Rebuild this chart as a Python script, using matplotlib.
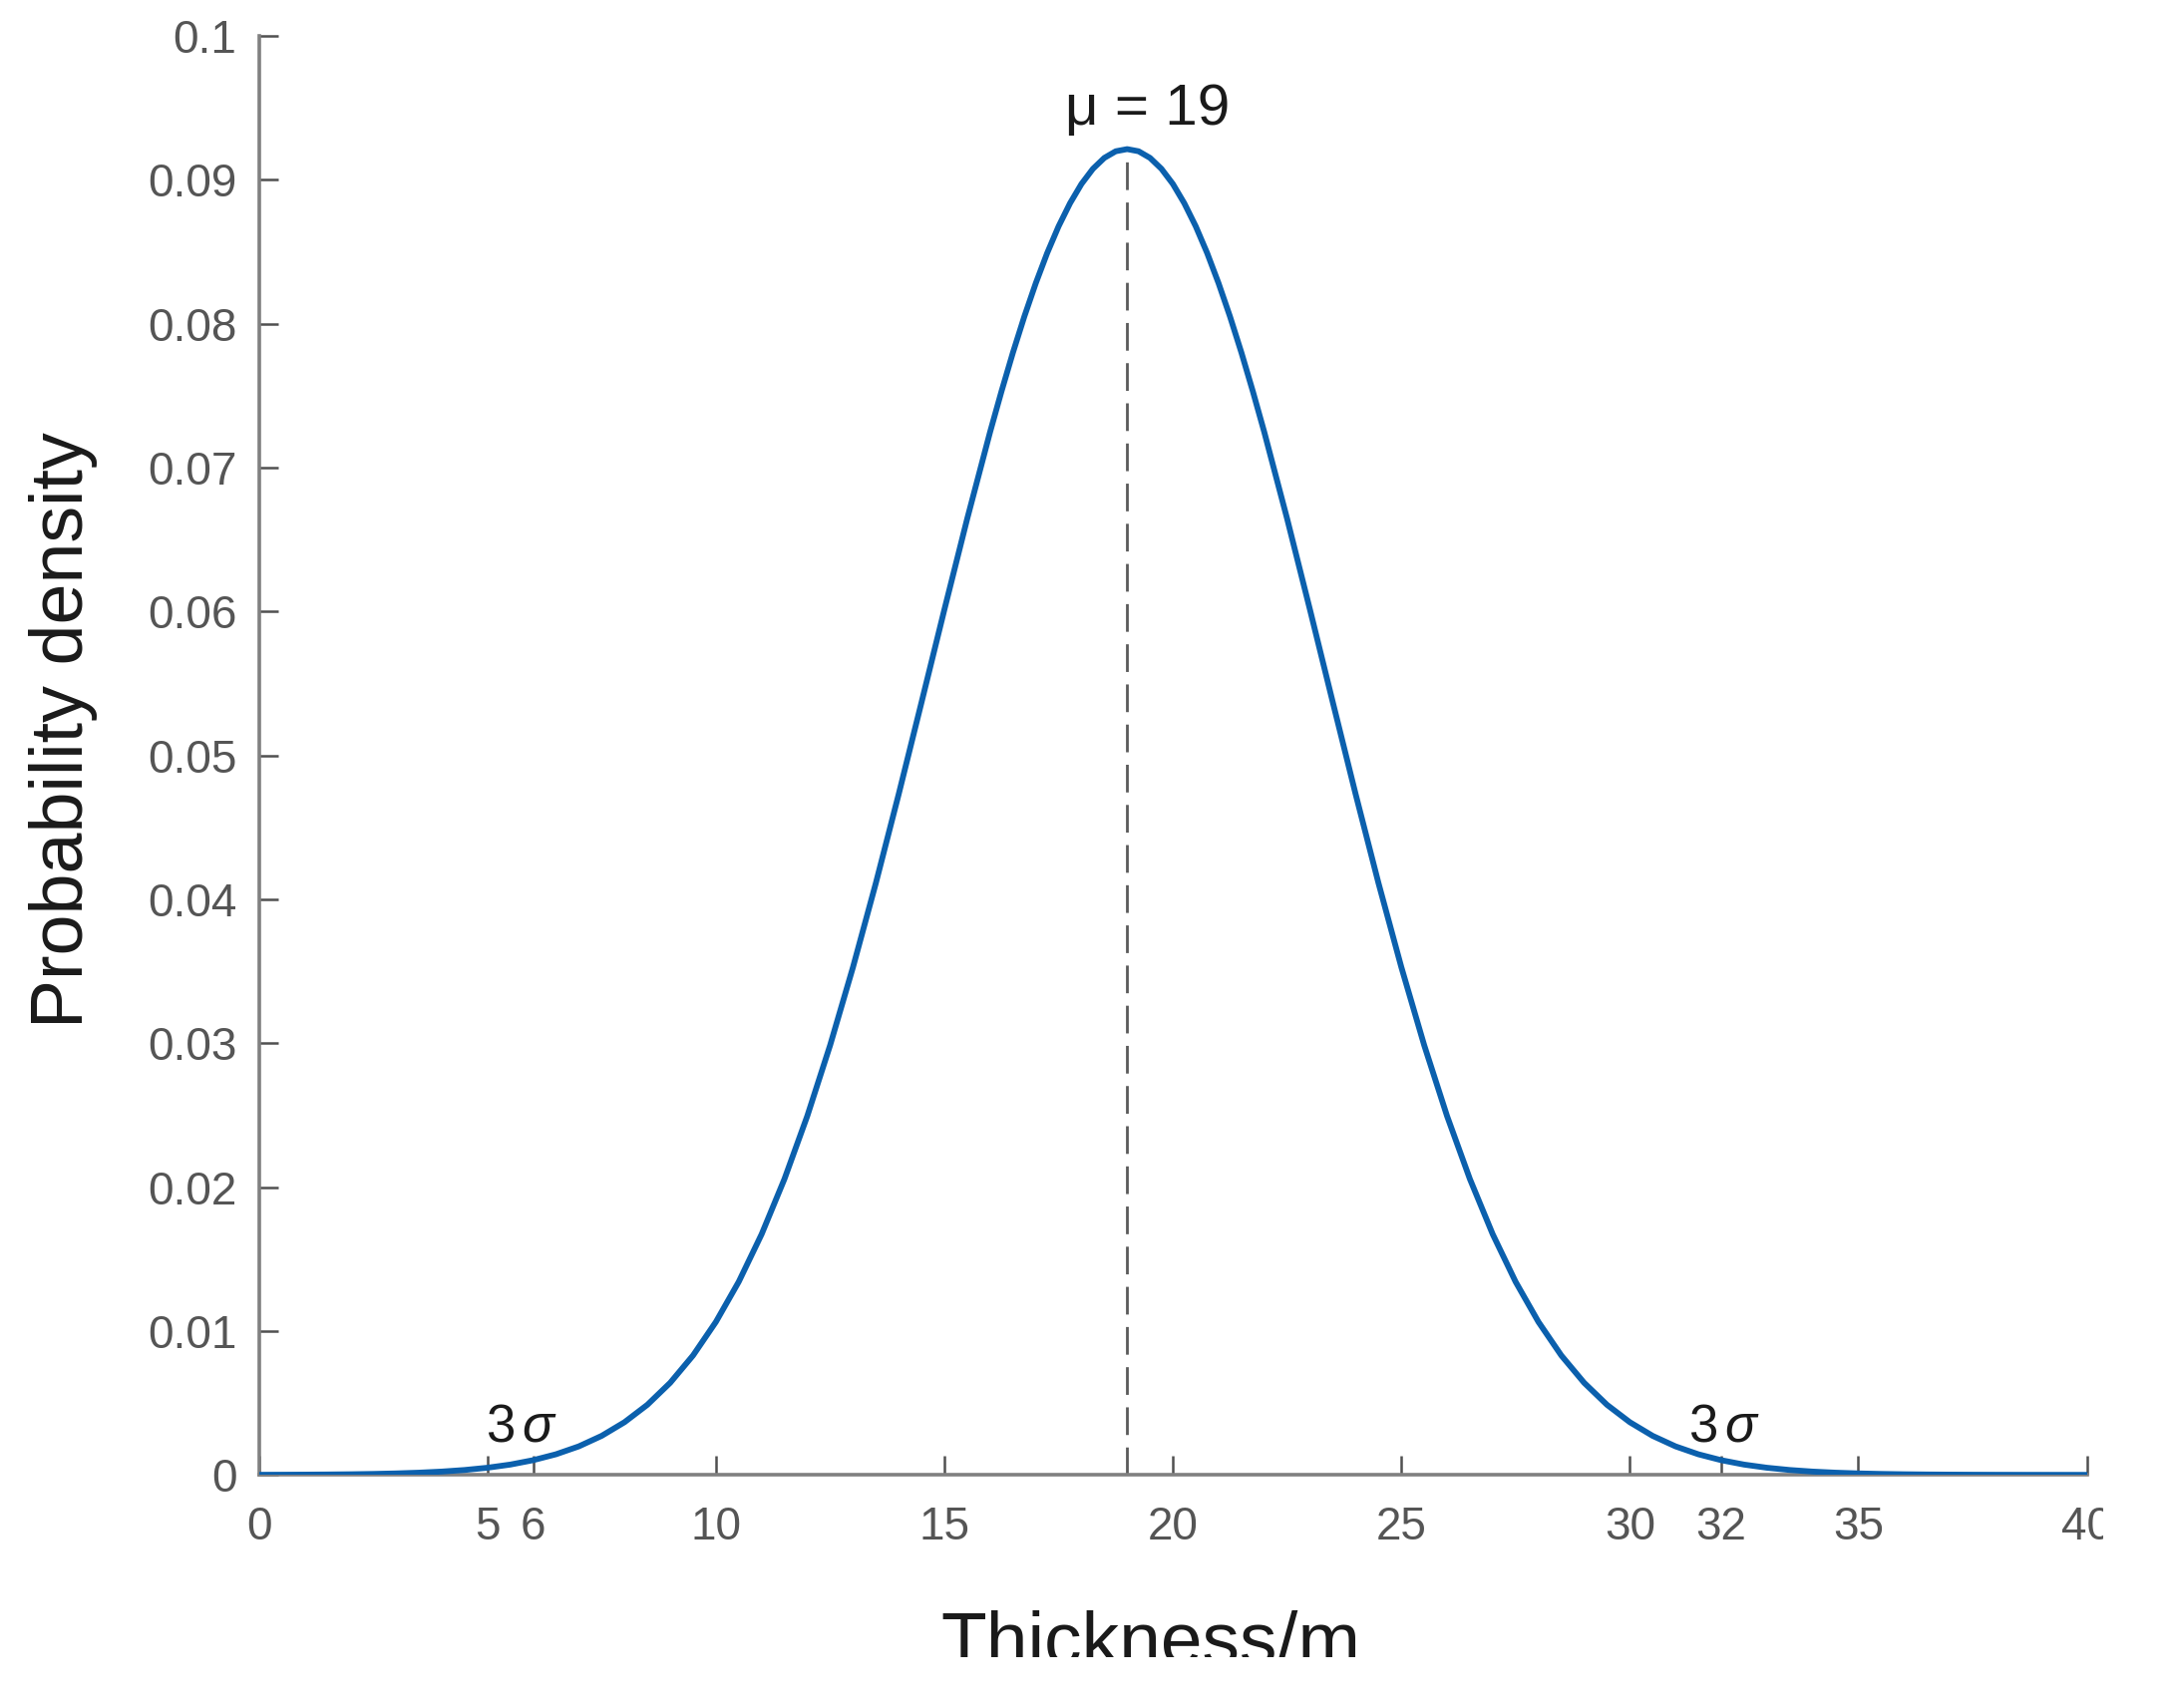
import matplotlib
matplotlib.use("Agg")
import matplotlib.pyplot as plt
from matplotlib.patches import Rectangle

plt.rcParams['font.family'] = ['Liberation Sans', 'DejaVu Sans']
plt.rcParams['mathtext.fontset'] = 'custom'
plt.rcParams['mathtext.rm'] = 'Liberation Sans'
plt.rcParams['mathtext.it'] = 'Liberation Sans:italic'

# thickness values (m) and probability density
thickness = [0, 0.5, 1, 1.5, 2, 2.5, 3, 3.5, 4, 4.5, 5, 5.5, 6, 6.5, 7, 7.5, 8, 8.5, 9, 9.5,
             10, 10.5, 11, 11.5, 12, 12.5, 13, 13.5, 14, 14.5, 15, 15.5,
             16, 16.25, 16.5, 16.75, 17, 17.25, 17.5, 17.75, 18, 18.25, 18.5, 18.75,
             19, 19.25, 19.5, 19.75, 20, 20.25, 20.5, 20.75, 21, 21.25, 21.5, 21.75, 22,
             22.5, 23, 23.5, 24, 24.5, 25, 25.5,
             26, 26.5, 27, 27.5, 28, 28.5, 29, 29.5, 30, 30.5, 31, 31.5, 32, 32.5, 33, 33.5,
             34, 34.5, 35, 35.5, 36, 36.5, 37, 37.5, 38, 38.5, 39, 39.5, 40]
density = [0.0000061, 0.0000100, 0.0000163, 0.0000262, 0.0000414, 0.0000648, 0.000100, 0.000152,
           0.000228, 0.000338, 0.000495, 0.000714, 0.00102, 0.00143, 0.00198, 0.00271,
           0.00366, 0.00487, 0.00640, 0.00830, 0.01063, 0.01342, 0.01672, 0.02056,
           0.02494, 0.02986, 0.03528, 0.04112, 0.04730, 0.05369, 0.06013, 0.06645,
           0.07247, 0.07530, 0.07799, 0.08050, 0.08281, 0.08491, 0.08677, 0.08837,
           0.08971, 0.09076, 0.09152, 0.09198,
           0.09213, 0.09198, 0.09152, 0.09076, 0.08971, 0.08837, 0.08677, 0.08491,
           0.08281, 0.08050, 0.07799, 0.07530, 0.07247,
           0.06645, 0.06013, 0.05369,
           0.04730, 0.04112, 0.03528, 0.02986, 0.02494, 0.02056, 0.01672, 0.01342,
           0.01063, 0.00830, 0.00640, 0.00487, 0.00366, 0.00271, 0.00198, 0.00143,
           0.00102, 0.000714, 0.000495, 0.000338, 0.000228, 0.000152, 0.000100, 0.0000648,
           0.0000414, 0.0000262, 0.0000163, 0.0000100, 0.0000061, 0.0000036, 0.0000021,
           0.0000012, 0.0000007]

mu = 19
mu_peak = 0.09213
x_ticks = [0, 5, 6, 10, 15, 20, 25, 30, 32, 35, 40]
y_ticks = [0, 0.01, 0.02, 0.03, 0.04, 0.05, 0.06, 0.07, 0.08, 0.09, 0.1]
y_tick_labels = ['0', '0.01', '0.02', '0.03', '0.04', '0.05', '0.06', '0.07', '0.08', '0.09', '0.1']
sigma_marks = [5.74, 32.07]

fig = plt.figure(figsize=(21.82, 17.13), dpi=100)
ax = fig.add_axes([0.119, 0.1365, 0.840, 0.8425])

ax.plot(thickness, density, color='#0b60ad', lw=4.2, zorder=3, solid_joinstyle='round')
ax.plot([mu, mu], [0, mu_peak], color='#5a5a5a', lw=2.0, ls=(0, (10, 4.5)), zorder=2)

ax.set_xlim(0, 40)
ax.set_ylim(0, 0.1)
ax.set_xticks(x_ticks)
ax.set_xticklabels([str(t) for t in x_ticks])
ax.set_yticks(y_ticks)
ax.set_yticklabels(y_tick_labels)

for s in ['top', 'right']:
    ax.spines[s].set_visible(False)
for s in ['left', 'bottom']:
    ax.spines[s].set_color('#808080')
    ax.spines[s].set_linewidth(2.6)

ax.tick_params(axis='both', direction='in', length=14, width=1.8, color='#505050',
               labelcolor='#555555', labelsize=33)
ax.tick_params(axis='x', pad=22)
ax.tick_params(axis='y', pad=16)

ax.text(19.45, 0.0938, 'μ = 19', fontsize=42, ha='center', va='baseline', color='#1a1a1a')
for xm in sigma_marks:
    ax.text(xm, 0.0023, r'3$\,\sigma$', fontsize=38, ha='center', va='baseline', color='#1a1a1a')

ax.text(-0.107, 0.518, 'Probability density', transform=ax.transAxes, rotation=90,
        fontsize=53, ha='center', va='center', color='#1a1a1a')
fig.text(0.529, 0.0257, 'Thickness/m', fontsize=54, ha='center', va='baseline', color='#1a1a1a')

# the reference image is cropped at the bottom and right edges
fig.patches.append(Rectangle((0, 0), 1, 0.0298, transform=fig.transFigure,
                             facecolor='white', edgecolor='none', zorder=10))
fig.patches.append(Rectangle((0.9666, 0), 0.0334, 1, transform=fig.transFigure,
                             facecolor='white', edgecolor='none', zorder=10))

fig.savefig('out.png', dpi=100, facecolor='white')
